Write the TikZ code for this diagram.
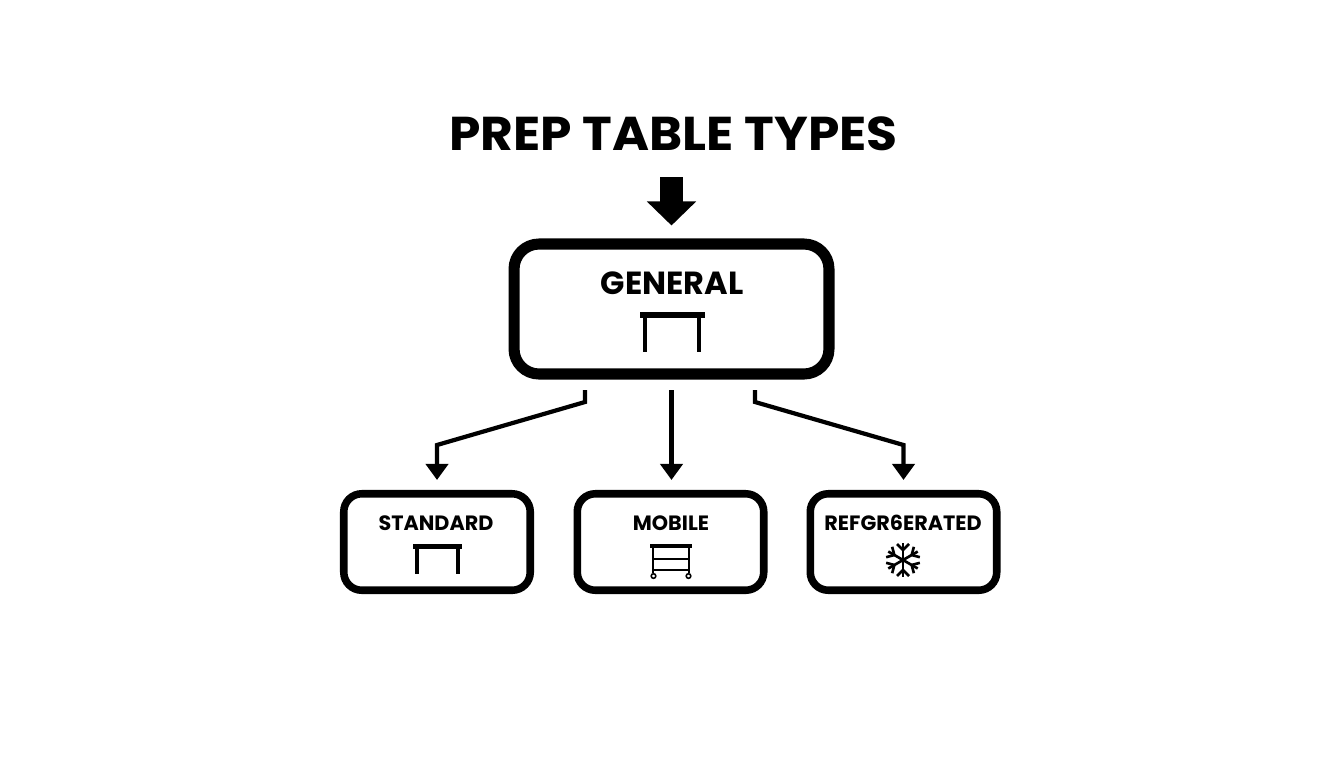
\documentclass[tikz,border=0pt]{standalone}
\usepackage{fontspec}
\setmainfont{Poppins}
\usetikzlibrary{arrows.meta}
\tikzset{
  bigbox/.style={draw, line width=6.3pt, rounded corners=0.5cm, minimum width=6.3cm, minimum height=2.6cm},
  smallbox/.style={draw, line width=4.3pt, rounded corners=0.36cm, minimum width=3.73cm, minimum height=1.93cm},
  bigtext/.style={font=\bfseries\fontsize{18.2}{18}\selectfont, inner sep=0pt},
  smalltext/.style={font=\bfseries\fontsize{11.8}{12}\selectfont, inner sep=0pt},
  link/.style={line width=2.4pt, -{Triangle[length=9.1pt,width=12.5pt]}, shorten >=5.7pt},
  pics/tableicon/.style={code={
    \fill (-32.5,0) rectangle (32.5,6);
    \draw (-27,6) -- (-27,40);
    \draw (27,6) -- (27,40);
  }},
  pics/carticon/.style={code={
    \fill (-21,0) rectangle (21,4);
    \draw (-18,4) -- (-18,29) (18,4) -- (18,29);
    \draw (-18,15) -- (18,15);
    \draw (-18,26) -- (18,26);
    \draw[line width=0.9pt] (-17.5,32) circle (2.3);
    \draw[line width=0.9pt] (17.5,32) circle (2.3);
  }},
  pics/flakeicon/.style={code={
    \foreach \ang in {30,90,150,210,270,330} {
      \draw[rotate=\ang] (0,0) -- (17,0);
      \draw[rotate=\ang] (16,-6) -- (10,0) -- (16,6);
    }
  }}
}
\begin{document}
\begin{tikzpicture}[x=0.02cm, y=-0.02cm]
  \useasboundingbox (0,0) rectangle (1344,768);

  % Title and block arrow
  \node[font=\bfseries\fontsize{27}{27}\selectfont, inner sep=0pt, text depth=0pt, anchor=south, xscale=1.06] (title) at (673.5,151) {PREP TABLE TYPES};

  % Boxes
  \node[bigbox] (general) at (671.5,309) {};
  \node[smallbox] (standard) at (437,542) {};
  \node[smallbox] (mobile) at (670.5,542) {};
  \node[smallbox] (refrigerated) at (903.5,542) {};

  \draw[line width=13pt, -{Triangle[length=13.7pt,width=27.3pt]}, shorten <=14.8pt, shorten >=7.4pt]
    (general.north |- title.south) -- (general.north);

  % Labels
  \node[bigtext] (generaltext) at (672,283) {GENERAL};
  \node[smalltext] (standardtext) at (436,523) {STANDARD};
  \node[smalltext] (mobiletext) at (671,523) {MOBILE};
  \node[smalltext] (refrigeratedtext) at (903,523) {REFGR6ERATED};

  % Icons
  \pic[line width=2.8pt] at (672,312) {tableicon};
  \pic[line width=2pt, scale=0.76] at (437.5,544) {tableicon};
  \pic[line width=1.5pt] at (671,544) {carticon};
  \pic[line width=1.5pt] at (903,560) {flakeicon};

  % Links from the big box to the small ones
  \coordinate (leftout) at (585,390);
  \coordinate (rightout) at (755,390);
  \draw[link] (leftout) -- (585,402) -- (standard.north |- 0,445) -- (standard.north);
  \draw[link, shorten <=6pt] (general.south) -- (general.south |- mobile.north);
  \draw[link] (rightout) -- (755,402) -- (refrigerated.north |- 0,445) -- (refrigerated.north);
\end{tikzpicture}
\end{document}
